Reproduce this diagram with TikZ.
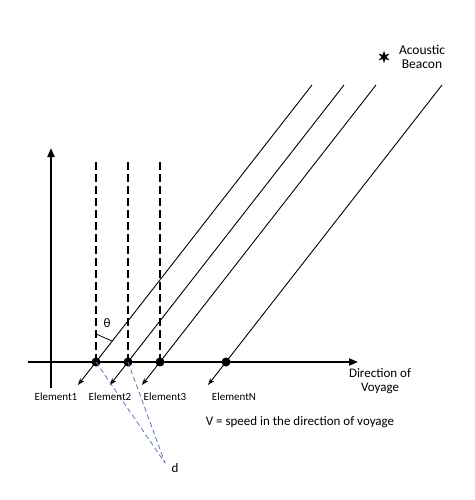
\documentclass[tikz,border=0pt]{standalone}
\usepackage{fontspec}
\setmainfont{Carlito}
\usetikzlibrary{arrows.meta,shapes.geometric}
\begin{document}
\begin{tikzpicture}[x=1pt,y=-1pt,
  axis/.style={line width=2pt,-{Triangle[length=9pt,width=7pt]}},
  ray/.style={line width=0.9pt,-{Stealth[length=7pt,width=5pt]}},
  vdash/.style={line width=1.3pt,dash pattern=on 8pt off 4pt},
  bdash/.style={draw={rgb,255:red,90;green,120;blue,180},line width=0.8pt,dash pattern=on 5pt off 3pt},
  elem/.style={circle,fill=black,inner sep=0pt,minimum size=9pt},
  lab/.style={font=\fontsize{11}{12}\selectfont,inner sep=0pt},
  txt/.style={font=\fontsize{13}{15}\selectfont,inner sep=0pt,align=center}]
\useasboundingbox (0,0) rectangle (474,500);
% axes
\coordinate (hs) at (28,362);
\coordinate (he) at (358,362);
\coordinate (vs) at (51,388);
\coordinate (ve) at (51,148);
\draw[axis] (hs) -- (he);
\draw[axis] (vs) -- (ve);
% elements
\node[elem] (e1) at (96,362) {};
\node[elem] (e2) at (128,362) {};
\node[elem] (e3) at (160,362) {};
\node[elem] (eN) at (226,362) {};
% ray tops and ends
\coordinate (t1) at (312,85);
\coordinate (t2) at (344,85);
\coordinate (t3) at (376,85);
\coordinate (tN) at (442,85);
\coordinate (b1) at (78,385);
\coordinate (b2) at (110,385);
\coordinate (b3) at (142,385);
\coordinate (bN) at (208,385);
\draw[ray] (t1) -- (b1);
\draw[ray] (t2) -- (b2);
\draw[ray] (t3) -- (b3);
\draw[ray] (tN) -- (bN);
% dashed verticals
\coordinate (v1) at (96,160);
\coordinate (v2) at (128,160);
\coordinate (v3) at (160,160);
\draw[vdash] (e1.center) -- (v1);
\draw[vdash] (e2.center) -- (v2);
\draw[vdash] (e3.center) -- (v3);
% theta
\coordinate (a1) at (96,334);
\coordinate (a2) at (112,341);
\draw[line width=0.8pt] (a1) -- (a2);
\node[txt] (theta) at (107,323) {θ};
% d
\coordinate (dp) at (165,463);
\draw[bdash] (e1.center) -- (dp);
\draw[bdash] (e2.center) -- (dp);
\node[txt] (d) at (175,468) {d};
% labels
\node[lab] (l1) at (56,397) {Element1};
\node[lab] (l2) at (110,397) {Element2};
\node[lab] (l3) at (165,397) {Element3};
\node[lab] (lN) at (234,397) {ElementN};
\node[txt,font=\fontsize{13}{14}\selectfont] (dir) at (380,381) {Direction of\\Voyage};
\node[txt] (v) at (300,422) {V = speed in the direction of voyage};
% beacon
\node[star,star points=6,star point ratio=2.6,fill=black,inner sep=0pt,minimum size=13pt,shape border rotate=0] (star) at (384,57) {};
\node[txt,font=\fontsize{13.5}{14}\selectfont] (beacon) at (422,57) {Acoustic\\Beacon};
\end{tikzpicture}
\end{document}
